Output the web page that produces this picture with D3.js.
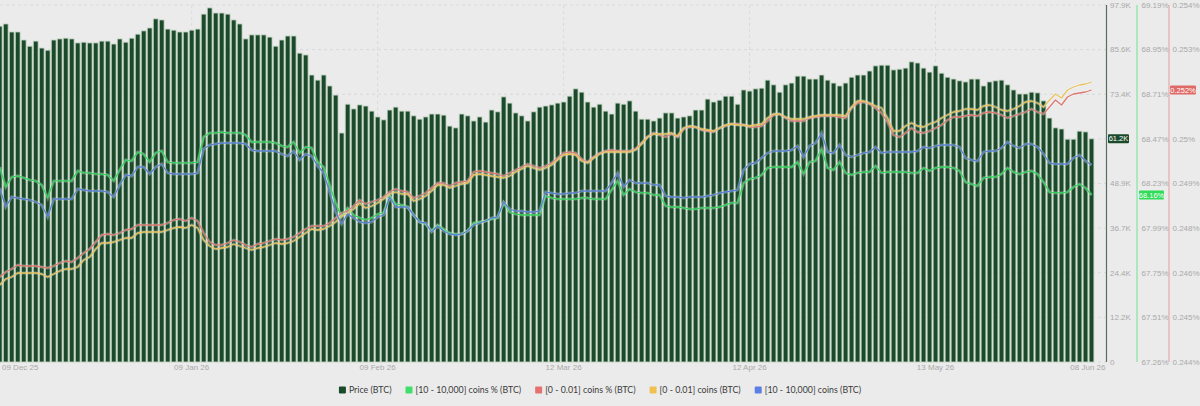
<!DOCTYPE html>
<html>
<head>
<meta charset="utf-8">
<title>BTC price and cohort holdings</title>
<style>
  body{margin:0;background:#ebebeb;}
  svg{display:block;}
  .ax text{font-family:"Liberation Sans",Arial,sans-serif;font-size:8px;fill:#a9a9a9;}
  .legend text{font-family:Lato,sans-serif;font-size:8.8px;fill:#3a3a3a;}
</style>
</head>
<body>
<div id="chart"></div>
<script src="https://cdn.jsdelivr.net/npm/d3@7"></script>
<script>
// one value per day, starting here
var startDay = "2025-12-08";

// Price (BTC), thousands of USD
var price = [92.1,92.7,90.5,90.5,88.3,86.6,88.0,86.1,85.5,88.3,88.6,88.8,88.6,87.5,87.7,87.5,87.5,88.0,88.0,87.2,88.6,87.7,88.8,89.9,90.8,91.6,94.1,93.8,91.3,91.0,90.5,90.5,91.0,91.3,95.4,97.1,95.7,
  95.7,95.4,93.8,92.7,88.6,89.7,89.7,89.7,89.1,86.6,88.3,89.4,89.4,84.7,84.2,78.7,77.3,78.7,75.7,73.2,62.8,70.7,69.4,70.5,70.2,68.8,67.2,66.4,69.1,69.9,68.8,68.8,67.5,66.6,67.2,68.0,68.0,
  67.7,64.7,64.2,68.0,67.5,66.1,67.2,65.8,69.1,68.6,72.7,71.0,68.3,67.5,66.1,68.6,69.9,70.2,70.5,71.0,71.3,72.9,74.9,74.0,71.3,69.9,70.7,68.8,68.0,71.0,70.7,71.6,68.8,66.6,66.6,66.1,
  66.9,68.3,68.3,66.9,67.2,67.5,69.1,69.1,72.1,71.3,71.8,72.9,72.9,70.7,74.6,74.3,74.9,75.1,77.3,76.0,74.0,76.0,76.5,78.4,78.4,77.6,77.6,78.7,77.3,76.5,75.7,76.5,78.1,78.7,78.7,79.8,81.2,
  81.4,81.4,80.1,80.3,80.6,82.3,82.0,80.6,79.5,81.2,79.2,78.1,77.6,77.1,76.8,77.6,77.6,75.7,76.8,77.1,77.3,76.0,74.6,73.5,73.5,74.0,73.8,71.6,66.9,64.2,63.9,61.1,61.1,63.3,63.1,61.2];

// [10 - 10,000] coins % of supply
var share10k = [68.315,68.207,68.261,68.267,68.256,68.245,68.240,68.218,68.148,68.240,68.240,68.240,68.240,68.294,68.283,68.283,68.277,68.277,68.272,68.240,68.299,68.353,68.348,68.396,68.385,68.342,68.391,68.402,68.342,68.337,68.337,68.337,68.337,68.342,68.477,68.499,68.499,
  68.504,68.499,68.499,68.499,68.488,68.450,68.450,68.450,68.450,68.445,68.429,68.423,68.450,68.391,68.423,68.418,68.342,68.315,68.218,68.121,68.045,68.094,68.056,68.040,68.029,68.040,68.061,68.067,68.159,68.115,68.110,68.099,68.056,68.018,68.007,67.970,68.002,
  67.980,67.959,67.953,67.953,67.970,68.013,68.018,68.024,68.034,68.040,68.121,68.072,68.061,68.056,68.056,68.056,68.056,68.159,68.148,68.142,68.142,68.142,68.142,68.148,68.148,68.142,68.142,68.142,68.191,68.240,68.164,68.196,68.180,68.175,68.175,68.164,
  68.164,68.105,68.099,68.099,68.094,68.088,68.088,68.094,68.094,68.094,68.099,68.110,68.121,68.121,68.229,68.250,68.256,68.272,68.310,68.315,68.315,68.315,68.315,68.342,68.277,68.342,68.348,68.412,68.310,68.299,68.342,68.283,68.272,68.283,68.288,68.288,68.321,
  68.283,68.288,68.288,68.288,68.288,68.283,68.283,68.310,68.294,68.310,68.315,68.315,68.310,68.294,68.234,68.223,68.213,68.256,68.261,68.261,68.277,68.310,68.288,68.277,68.288,68.294,68.277,68.234,68.180,68.175,68.175,68.180,68.207,68.223,68.202,68.164];

// [0 - 0.01] coins % of supply
var share001 = [0.24610,0.24625,0.24634,0.24646,0.24643,0.24643,0.24643,0.24640,0.24637,0.24643,0.24652,0.24658,0.24655,0.24667,0.24682,0.24694,0.24715,0.24736,0.24739,0.24736,0.24742,0.24751,0.24754,0.24766,0.24766,0.24766,0.24766,0.24766,0.24772,0.24781,0.24784,0.24778,0.24787,0.24778,0.24742,0.24715,0.24706,
  0.24706,0.24712,0.24721,0.24715,0.24706,0.24700,0.24709,0.24712,0.24718,0.24724,0.24721,0.24724,0.24730,0.24742,0.24754,0.24763,0.24763,0.24763,0.24772,0.24787,0.24802,0.24808,0.24823,0.24841,0.24829,0.24835,0.24841,0.24850,0.24865,0.24874,0.24868,0.24865,0.24847,0.24853,0.24862,0.24877,0.24892,
  0.24892,0.24883,0.24892,0.24895,0.24898,0.24925,0.24928,0.24925,0.24922,0.24919,0.24913,0.24922,0.24931,0.24940,0.24949,0.24943,0.24937,0.24943,0.24952,0.24967,0.24982,0.24985,0.24982,0.24964,0.24955,0.24970,0.24982,0.24988,0.24991,0.24988,0.24988,0.24988,0.24994,0.25012,0.25030,0.25042,
  0.25036,0.25030,0.25039,0.25030,0.25054,0.25060,0.25060,0.25051,0.25048,0.25045,0.25057,0.25063,0.25069,0.25069,0.25066,0.25060,0.25060,0.25063,0.25078,0.25096,0.25099,0.25087,0.25078,0.25078,0.25078,0.25087,0.25090,0.25093,0.25093,0.25093,0.25090,0.25087,0.25117,0.25132,0.25135,0.25129,0.25117,
  0.25102,0.25075,0.25036,0.25030,0.25042,0.25057,0.25045,0.25042,0.25048,0.25057,0.25066,0.25081,0.25090,0.25090,0.25093,0.25096,0.25093,0.25102,0.25105,0.25102,0.25096,0.25087,0.25093,0.25099,0.25105,0.25114,0.25105,0.25099,0.25120,0.25141,0.25126,0.25150,0.25159,0.25162,0.25165,0.25171];

// [0 - 0.01] coins, BTC held (hidden axis)
var coins001 = [49162,49198,49210,49234,49234,49234,49234,49228,49210,49228,49246,49258,49258,49270,49312,49330,49378,49414,49414,49420,49432,49444,49444,49474,49480,49480,49480,49480,49492,49504,49510,49504,49522,49504,49432,49396,49378,
  49384,49390,49408,49396,49384,49372,49384,49390,49402,49414,49408,49414,49426,49450,49474,49498,49492,49498,49516,49540,49576,49594,49618,49654,49624,49636,49654,49678,49708,49720,49708,49708,49666,49678,49696,49726,49762,
  49762,49744,49756,49768,49774,49822,49828,49822,49816,49810,49804,49816,49840,49858,49876,49864,49852,49864,49882,49912,49942,49948,49942,49906,49894,49924,49948,49960,49960,49960,49960,49960,49972,50008,50050,50068,
  50068,50068,50074,50056,50104,50116,50110,50098,50092,50086,50104,50122,50128,50122,50122,50116,50122,50128,50164,50188,50188,50170,50158,50158,50158,50170,50176,50182,50182,50182,50182,50176,50230,50266,50266,50254,50236,
  50224,50164,50086,50086,50116,50134,50116,50110,50128,50140,50164,50182,50200,50206,50218,50218,50212,50236,50242,50230,50212,50206,50218,50236,50260,50266,50254,50230,50272,50308,50284,50332,50350,50362,50368,50380];

// [10 - 10,000] coins, million BTC held (hidden axis)
var coins10k = [13.474,13.455,13.465,13.464,13.463,13.462,13.460,13.457,13.445,13.463,13.463,13.463,13.463,13.473,13.472,13.471,13.471,13.471,13.470,13.465,13.477,13.487,13.486,13.495,13.495,13.488,13.495,13.498,13.489,13.488,13.488,13.488,13.488,13.489,13.513,13.517,13.518,
  13.519,13.519,13.519,13.519,13.518,13.512,13.511,13.511,13.511,13.511,13.508,13.506,13.511,13.502,13.508,13.506,13.496,13.489,13.470,13.450,13.438,13.448,13.444,13.440,13.439,13.440,13.445,13.447,13.465,13.455,13.455,13.455,13.447,13.440,13.439,13.430,13.436,
  13.431,13.428,13.427,13.428,13.431,13.437,13.439,13.441,13.444,13.445,13.460,13.453,13.451,13.451,13.450,13.450,13.451,13.470,13.469,13.468,13.468,13.469,13.469,13.471,13.471,13.471,13.471,13.471,13.479,13.489,13.475,13.482,13.479,13.479,13.479,13.477,
  13.477,13.466,13.465,13.465,13.464,13.465,13.465,13.465,13.466,13.467,13.469,13.470,13.471,13.472,13.492,13.498,13.499,13.504,13.509,13.511,13.511,13.511,13.512,13.516,13.505,13.516,13.519,13.529,13.510,13.509,13.517,13.507,13.505,13.507,13.509,13.510,13.515,
  13.509,13.510,13.510,13.510,13.510,13.510,13.511,13.515,13.514,13.516,13.517,13.517,13.517,13.515,13.504,13.502,13.501,13.510,13.511,13.511,13.514,13.520,13.516,13.514,13.518,13.518,13.515,13.508,13.499,13.498,13.498,13.498,13.504,13.507,13.501,13.497];

var xTickDates = ["2025-12-09","2026-01-09","2026-02-09","2026-03-12","2026-04-12","2026-05-13","2026-06-08"];
var xTickLabels = ["09 Dec 25","09 Jan 26","09 Feb 26","12 Mar 26","12 Apr 26","13 May 26","08 Jun 26"];
var priceTickLabels = ["0","12.2K","24.4K","36.7K","48.9K","61.2K","73.4K","85.6K","97.9K"];
var shareTickLabels = ["67.26%","67.51%","67.75%","67.99%","68.23%","68.47%","68.71%","68.95%","69.19%"];
var smallTickLabels = ["0.244%","0.245%","0.246%","0.248%","0.249%","0.25%","0.252%","0.253%","0.254%"];
var legendNames = ["Price (BTC)","[10 - 10,000] coins % (BTC)","[0 - 0.01] coins % (BTC)","[0 - 0.01] coins (BTC)","[10 - 10,000] coins (BTC)"];

var colBar = "#1b4a2a", colGreen = "#34d45c", colRed = "#dc7a70", colYellow = "#e9c35e", colBlue = "#5a82d4";

var W = 1200, H = 406, yTop = 5, yBottom = 362, plotRight = 1106.5;

var svg = d3.select("#chart").append("svg").attr("width", W).attr("height", H);

var parseDay = d3.utcParse("%Y-%m-%d");
var day0 = parseDay(startDay);
var days = price.map(function(d, i){ return d3.utcDay.offset(day0, i); });

var x = d3.scaleUtc()
    .domain([day0, d3.utcHour.offset(days[days.length - 1], 60)])
    .range([-0.3, plotRight]);

var yPrice = d3.scaleLinear().domain([0, 97.9]).range([yBottom, yTop]);
var yShare = d3.scaleLinear().domain([67.262, 69.19]).range([yBottom, yTop]);
var ySmall = d3.scaleLinear().domain([0.24355, 0.25426]).range([yBottom, yTop]);
var yCoins001 = d3.scaleLinear().domain([48700, 50842]).range([yBottom, yTop]);
var yCoins10k = d3.scaleLinear().domain([13.300, 13.657]).range([yBottom, yTop]);

function tickVals(scale){
  var dm = scale.domain();
  return d3.range(9).map(function(i){ return dm[0] + i * (dm[1] - dm[0]) / 8; });
}

// grid
var grid = svg.append("g").attr("stroke", "#d3d3d3").attr("stroke-width", 0.7).attr("stroke-dasharray", "3,3");
grid.selectAll("line.h").data(tickVals(yPrice)).enter().append("line")
    .attr("x1", 0).attr("x2", plotRight)
    .attr("y1", function(d){ return yPrice(d); }).attr("y2", function(d){ return yPrice(d); });
grid.selectAll("line.v").data(xTickDates.slice(1, -1)).enter().append("line")
    .attr("x1", function(d){ return x(parseDay(d)); }).attr("x2", function(d){ return x(parseDay(d)); })
    .attr("y1", yTop).attr("y2", yBottom);

// bars
svg.append("g").selectAll("rect").data(price).enter().append("rect")
    .attr("x", function(d, i){ return x(days[i]) - 2.4; })
    .attr("width", 4.8)
    .attr("y", function(d){ return yPrice(d); })
    .attr("height", function(d){ return yBottom - yPrice(d); })
    .attr("fill", colBar)
    .attr("stroke", "#c3d4c3")
    .attr("stroke-width", 0.8);

// lines
var series = [
  {vals: share10k, y: yShare, color: colGreen},
  {vals: share001, y: ySmall, color: colRed},
  {vals: coins001, y: yCoins001, color: colYellow},
  {vals: coins10k, y: yCoins10k, color: colBlue}
];
series.forEach(function(s){
  var line = d3.line()
      .x(function(d, i){ return x(days[i]); })
      .y(function(d){ return s.y(d); });
  svg.append("path").datum(s.vals)
      .attr("d", line).attr("fill", "none")
      .attr("stroke", "#ffffff").attr("stroke-opacity", 0.3).attr("stroke-width", 3);
  svg.append("path").datum(s.vals)
      .attr("d", line).attr("fill", "none")
      .attr("stroke", s.color).attr("stroke-width", 1.3).attr("stroke-linejoin", "round");
});

// current value flags (drawn over their axis)
var flags = [
  {y: yPrice(price[price.length - 1]), text: d3.format(".1f")(price[price.length - 1]) + "K", x: 1108, w: 21, fill: colBar},
  {y: yShare(share10k[share10k.length - 1]), text: d3.format(".2f")(share10k[share10k.length - 1]) + "%", x: 1139, w: 25, fill: "#2fdc5a"},
  {y: ySmall(share001[share001.length - 1]), text: d3.format(".3f")(share001[share001.length - 1]) + "%", x: 1170, w: 26, fill: "#e06a66"}
];

// right axes
var axes = [
  {scale: yPrice, labels: priceTickLabels, lineX: 1106.5, textX: 1110, color: "#55705d", flag: flags[0]},
  {scale: yShare, labels: shareTickLabels, lineX: 1137, textX: 1141.5, color: "#86e3a2", flag: flags[1]},
  {scale: ySmall, labels: smallTickLabels, lineX: 1169, textX: 1172.5, color: "#e5abab", flag: flags[2]}
];
axes.forEach(function(a){
  var g = svg.append("g").attr("class", "ax");
  g.append("line").attr("x1", a.lineX).attr("x2", a.lineX).attr("y1", yTop).attr("y2", yBottom)
      .attr("stroke", a.color).attr("stroke-width", 1.2);
  // the tick hidden under the value flag is left out
  var vals = tickVals(a.scale).filter(function(d){ return Math.abs(a.scale(d) - a.flag.y) > 9; });
  g.selectAll("text").data(vals).enter().append("text")
      .attr("x", a.textX).attr("y", function(d){ return a.scale(d); })
      .attr("dy", "0.35em")
      .text(function(d){ return a.labels[tickVals(a.scale).indexOf(d)]; });
});

// x axis labels
var xg = svg.append("g").attr("class", "ax");
xTickDates.forEach(function(d, i){
  var px = x(parseDay(d));
  var t = xg.append("text").attr("y", 370).text(xTickLabels[i]);
  var w = t.node().getComputedTextLength();
  var left = px - w / 2;
  if (i == xTickDates.length - 1) left = plotRight - 1 - w;
  if (left < 2) left = 2;
  t.attr("x", left);
});

flags.forEach(function(f){
  svg.append("rect").attr("x", f.x).attr("y", f.y - 4.5).attr("width", f.w).attr("height", 9)
      .attr("rx", 1).attr("fill", f.fill);
  svg.append("text").attr("x", f.x + f.w / 2).attr("y", f.y).attr("dy", "0.35em")
      .attr("text-anchor", "middle")
      .style("font-family", "'Liberation Sans',Arial,sans-serif").style("font-size", "7.5px")
      .attr("fill", "#ffffff").text(f.text);
});

// legend
var legColors = [colBar, "#3ee06a", "#e57070", "#f0c050", "#5b7fe3"];
var leg = svg.append("g").attr("class", "legend");
var cx = 0;
legendNames.forEach(function(n, i){
  var item = leg.append("g").attr("transform", "translate(" + cx + ",0)");
  item.append("rect").attr("x", 0).attr("y", -3.5).attr("width", 7).attr("height", 7).attr("rx", 1).attr("fill", legColors[i]);
  var t = item.append("text").attr("x", 10).attr("dy", "0.35em").text(n);
  cx += 10 + t.node().getComputedTextLength() + 14;
});
cx -= 14;
leg.attr("transform", "translate(" + (600 - cx / 2) + ",390)");
</script>
</body>
</html>
